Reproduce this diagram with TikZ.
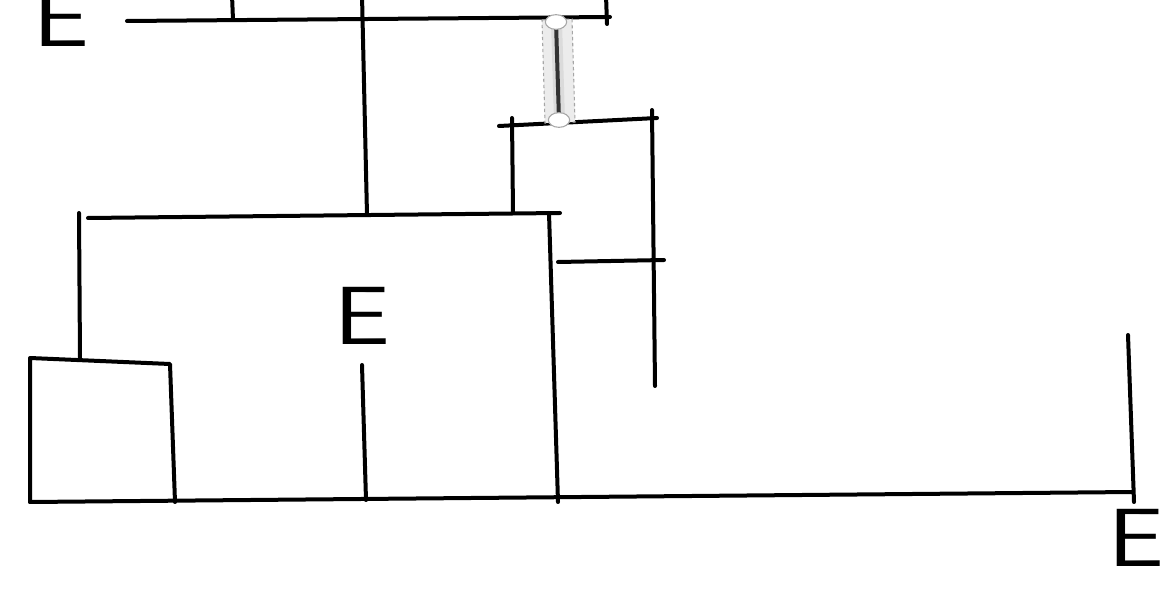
\documentclass[tikz,border=0pt]{standalone}
\usepackage{fontspec}
\usetikzlibrary{shapes.geometric}
\begin{document}
\begin{tikzpicture}[x=0.75pt,y=-0.75pt,
  ink/.style={line width=3pt,line cap=round,line join=round,black},
  letter/.style={font=\sffamily\fontsize{62}{62}\selectfont,inner sep=0pt,text=black,xscale=1.2,transform shape},
  handle/.style={ellipse,draw=gray!70,fill=white,line width=0.8pt,minimum width=16pt,minimum height=11pt,inner sep=0pt}]
\path[fill=white,use as bounding box] (0,0) rectangle (1175,616);
\begin{scope}
\clip (0,0) rectangle (1175,616);
% coordinates
\coordinate (t1) at (127,21); \coordinate (t2) at (610,17);
\coordinate (m1) at (88,218); \coordinate (m2) at (560,213);
\coordinate (s1) at (499,126); \coordinate (s2) at (657,118);
\coordinate (b1) at (30,502); \coordinate (b2) at (1133,492);
% top level
\draw[ink] (t1) -- (t2);
\draw[ink] (232,-5) -- (233,20);
\draw[ink] (606,-5) -- (607,24);
\draw[ink] (362,-5) -- (367,215);
% second level
\draw[ink] (s1) -- (s2);
\draw[ink] (512,118) -- (513,213);
\draw[ink] (652,110) -- (655,386);
\draw[ink] (558,262) -- (664,260);
% middle
\draw[ink] (m1) -- (m2);
\draw[ink] (79,213) -- (80,359);
\draw[ink] (549,213) -- (558,502);
% small box
\draw[ink] (30,502) -- (30,358) -- (170,364) -- (175,502);
\draw[ink] (362,365) -- (366,500);
% bottom
\draw[ink] (b1) -- (b2);
\draw[ink] (1128,335) -- (1134,502);
% letters
\node[letter] (e1) at (362,316) {E};
\node[letter] (e2) at (1136,538) {E};
\node[letter] (e3) at (61,18) {E};
% selected connector
\fill[gray!15] (542,20) -- (572,19) -- (575,122) -- (545,123) -- cycle;
\fill[gray!28] (551,22) -- (562,22) -- (565,120) -- (554,120) -- cycle;
\draw[gray!70,line width=0.8pt,dash pattern=on 2.5pt off 2pt] (542,20) -- (572,19) -- (575,122) -- (545,123) -- cycle;
\draw[line width=3pt,black!80] (556,22) -- (559,120);
\node[handle] (p1) at (556,22) {};
\node[handle] (p2) at (559,120) {};
\end{scope}
\end{tikzpicture}
\end{document}
